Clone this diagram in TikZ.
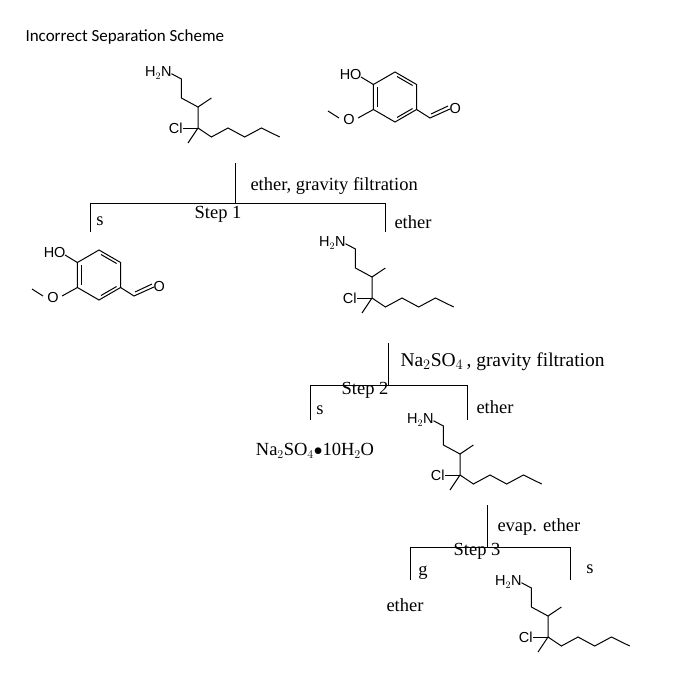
\documentclass[tikz,border=0pt]{standalone}
\usepackage{fontspec}
\setmainfont{Liberation Serif}
\newfontfamily\molf{Liberation Sans}
\newfontfamily\titf{Carlito}
\begin{document}
\begin{tikzpicture}[x=1pt,y=-1pt,line width=1pt,
  mol/.style={font=\molf\fontsize{14.5}{16}\selectfont,inner sep=0pt},
  lab/.style={font=\fontsize{18.5}{20}\selectfont,inner sep=0pt},
  pics/amine/.style={code={
    \draw (-26.6,-54.3) -- (-16.6,-49) -- (-16.6,-30) -- (0,-21) -- (13.4,-30);
    \draw (0,-21) -- (0,0) -- (13.4,9) -- (30,0) -- (46.7,9) -- (63.4,0) -- (81.7,9);
    \draw (0,0) -- (-10,15);
    \draw (0,0) -- (-15,0);
    \node[mol,anchor=east] (-cl) at (-15,0) {Cl};
    \node[mol,anchor=east] (-nh) at (-26,-55) {H$_2$N};
  }},
  pics/vanillin/.style={code={
    \draw (0,-25) -- (21.6,-12.5) -- (21.6,12.5) -- (0,25) -- (-21.6,12.5) -- (-21.6,-12.5) -- cycle;
    \draw (-17.6,-10) -- (-17.6,10);
    \draw (2,-20.5) -- (17.6,-11.5);
    \draw (2,20.5) -- (17.6,11.5);
    \draw (-21.6,-12.5) -- (-34,-20);
    \node[mol,anchor=east] (-oh) at (-33,-22) {HO};
    \draw (-21.6,12.5) -- (-37,21);
    \draw (-56,21) -- (-67,14);
    \node[mol] (-om) at (-46,23) {O};
    \draw (21.6,12.5) -- (35,21) -- (55,12);
    \draw (36,17) -- (53,9);
    \node[mol,anchor=west] (-co) at (54,12) {O};
  }}]
\useasboundingbox (0,0) rectangle (700,691);
\node[font=\titf\fontsize{17}{19}\selectfont,anchor=west,inner sep=0pt] (title) at (25,37) {Incorrect Separation Scheme};
\pic (m1) at (198,128) {amine};
\pic (v1) at (395,97) {vanillin};
\pic (v2) at (99,275) {vanillin};
\pic (m2) at (372,298) {amine};
\pic (m3) at (460,475) {amine};
\pic (m4) at (548,637) {amine};
% step 1
\draw (235,163) -- (235,203);
\draw (90,232) -- (90,203) -- (385,203) -- (385,232);
\node[lab,anchor=west] (t1) at (250,186) {ether, gravity filtration};
\node[lab] (s1) at (218,214) {Step 1};
\node[lab] (a1) at (100,221) {s};
\node[lab,anchor=west] (b1) at (394,222) {ether};
% step 2
\draw (388,343) -- (388,385);
\draw (310,420) -- (310,385) -- (467,385) -- (467,420);
\node[lab,anchor=west,font=\fontsize{19.5}{21}\selectfont] (t2) at (400,362) {Na$_2$SO$_4$\,, gravity filtration};
\node[lab] (s2) at (365,390) {Step 2};
\node[lab] (a2) at (320,410) {s};
\node[lab,anchor=west] (b2) at (476,407) {ether};
\node[lab] (c2) at (315,451) {Na$_2$SO$_4$$\bullet$10H$_2$O};
% step 3
\draw (487,505) -- (487,547);
\draw (410,580) -- (410,547) -- (570,547) -- (570,580);
\node[lab,anchor=west] (t3) at (497,527) {evap. ether};
\node[lab] (s3) at (477,551) {Step 3};
\node[lab] (a3) at (423,573) {g};
\node[lab] (b3) at (590,569) {s};
\node[lab] (c3) at (405,605) {ether};
\end{tikzpicture}
\end{document}
